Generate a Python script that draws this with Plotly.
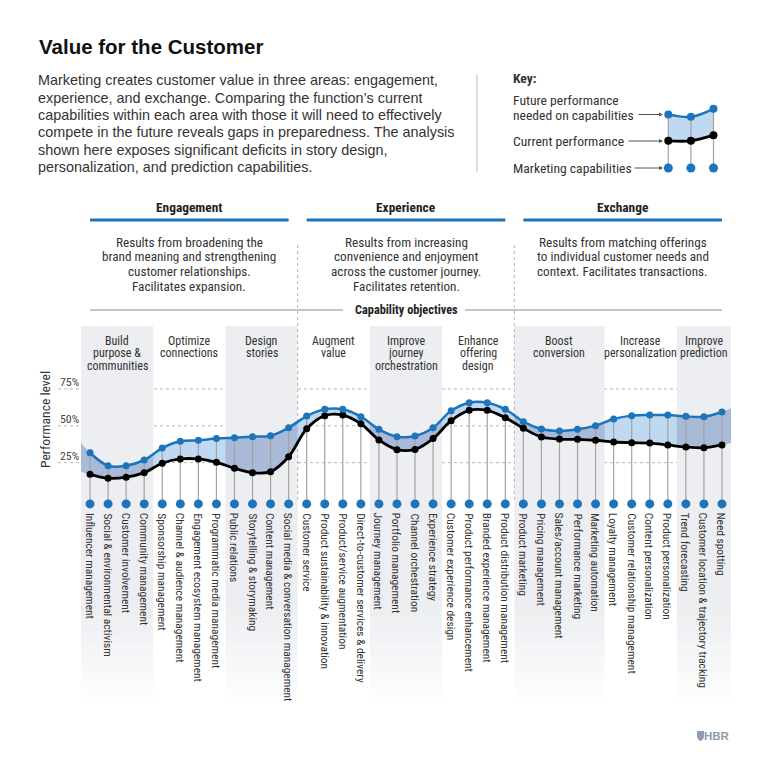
import plotly.graph_objects as go

# ---------------- data ----------------
capabilities = [
    "Influencer management", "Social & environmental activism", "Customer involvement", "Community management",
    "Sponsorship management", "Channel & audience management", "Engagement ecosystem management", "Programmatic media management",
    "Public relations", "Storytelling & storymaking", "Content management", "Social media & conversation management",
    "Customer service", "Product sustainability & innovation", "Product/service augmentation", "Direct-to-customer services & delivery",
    "Journey management", "Portfolio management", "Channel orchestration", "Experience strategy",
    "Customer experience design", "Product performance enhancement", "Branded experience management", "Product distribution management",
    "Product marketing", "Pricing management", "Sales/account management", "Performance marketing", "Marketing automation",
    "Loyalty management", "Customer relationship management", "Content personalization", "Product personalization",
    "Trend forecasting", "Customer location & trajectory tracking", "Need spotting",
]
future = [31.7, 22.9, 22.9, 26.8, 34.9, 39.5, 40.2, 41.3, 41.9, 42.6, 43.3, 48.7,
          56.6, 61.2, 61.2, 56.2, 47.6, 42.6, 43.1, 48.7, 60.2, 65.7, 65.7, 61.2,
          52.8, 47.8, 46.5, 47.6, 50.1, 54.6, 56.9, 57.3, 57.3, 56.4, 56.2, 59.4]
current = [17.1, 14.4, 15.1, 18.2, 24.6, 27.5, 27.5, 25.2, 21.2, 18.2, 18.9, 29.0,
           48.0, 56.9, 57.3, 51.4, 40.4, 33.8, 34.0, 41.3, 53.5, 60.5, 60.5, 55.5,
           48.3, 42.4, 41.0, 40.8, 40.2, 39.0, 38.5, 38.3, 37.0, 35.6, 35.1, 37.0]
# fill continues to the plot edges (left edge, right edge)
fill_edge_future = [38.3, 61.9]
fill_edge_current = [18.9, 38.5]

objectives = [
    ["Build", "purpose &", "communities"], ["Optimize", "connections"], ["Design", "stories"],
    ["Augment", "value"], ["Improve", "journey", "orchestration"], ["Enhance", "offering", "design"],
    ["Boost", "conversion"], ["Increase", "personalization"], ["Improve", "prediction"],
]
objective_sizes = [4, 4, 4, 4, 4, 4, 5, 4, 3]
objective_shaded = [True, False, True, False, True, False, True, False, True]

areas = ["Engagement", "Experience", "Exchange"]
area_sizes = [12, 12, 12]
area_desc = [
    ["Results from broadening the", "brand meaning and strengthening", "customer relationships.", "Facilitates expansion."],
    ["Results from increasing", "convenience and enjoyment", "across the customer journey.", "Facilitates retention."],
    ["Results from matching offerings", "to individual customer needs and", "context. Facilitates transactions."],
]
y_ticks = [25, 50, 75]
y_tick_labels = ["25%", "50%", "75%"]
base_level = -3  # marker row for capabilities

key_x = [0, 1, 2]
key_future = [82, 79, 89]
key_current = [49, 49, 56]
key_base = [15, 15, 15]

title = "Value for the Customer"
body = [
    "Marketing creates customer value in three areas: engagement,",
    "experience, and exchange. Comparing the function\u2019s current",
    "capabilities within each area with those it will need to effectively",
    "compete in the future reveals gaps in preparedness. The analysis",
    "shown here exposes significant deficits in story design,",
    "personalization, and prediction capabilities.",
]

# ---------------- styling / geometry ----------------
W, H = 768, 780
BLUE = "#1c74bc"
LIGHT_FILL = "#bfdaf0"
DARK_FILL = "#a9b9d8"
BAND = "#eceef1"
STEM = "#a3a3a3"
TXT = "#333333"
COND = "Roboto Condensed, Liberation Sans Narrow, DejaVu Sans Condensed, Arial Narrow, sans-serif"
SANS = "Liberation Sans, Arial, Helvetica, sans-serif"

PL, PR = 81, 731           # plot x extent (px)
N = len(capabilities)
S = (PR - PL) / N
PT, PB = 326, 705          # plot y extent (px)
Y0, K = 499.5, 1.474       # px of 0%, px per %
YMAX = (Y0 - PT) / K
YMIN = (Y0 - PB) / K


def fx(px):
    return px / W


def fy(py):
    return 1 - py / H


def xpx(i):
    return PL + (i + 0.5) * S


def ypx(v):
    return Y0 - v * K


fig = go.Figure()
shapes = []
ann = []

# gridlines (under the bands)
for v in y_ticks:
    shapes.append(dict(type="line", xref="paper", yref="paper", x0=fx(58), x1=fx(PR),
                       y0=fy(ypx(v)), y1=fy(ypx(v)), line=dict(color="#b8b8b8", width=1, dash="dot"),
                       layer="below"))

# shaded objective bands with fade at bottom
starts = []
s = 0
for n in objective_sizes:
    starts.append(s)
    s += n
FADE_TOP = 610
NF = 14
for st, n, sh in zip(starts, objective_sizes, objective_shaded):
    if not sh:
        continue
    x0, x1 = fx(xpx(st - 0.5)), fx(xpx(st + n - 0.5))
    shapes.append(dict(type="rect", xref="paper", yref="paper", x0=x0, x1=x1,
                       y0=fy(FADE_TOP), y1=fy(PT), fillcolor=BAND, line=dict(width=0), layer="below"))
    h = (PB - FADE_TOP) / NF
    for k in range(NF):
        shapes.append(dict(type="rect", xref="paper", yref="paper", x0=x0, x1=x1,
                           y0=fy(FADE_TOP + (k + 1) * h), y1=fy(FADE_TOP + k * h),
                           fillcolor=BAND, opacity=1 - (k + 0.5) / NF, line=dict(width=0), layer="below"))

# dotted area separators
a = 0
for n in area_sizes[:-1]:
    a += n
    xs = fx(xpx(a - 0.5))
    shapes.append(dict(type="line", xref="paper", yref="paper", x0=xs, x1=xs, y0=fy(245), y1=fy(ypx(0)),
                       line=dict(color="#b5b5b5", width=1, dash="dot"), layer="below"))

# ---------------- traces ----------------
fx_all = [-0.5] + list(range(N)) + [N - 0.5]
fut_all = [fill_edge_future[0]] + future + [fill_edge_future[1]]
cur_all = [fill_edge_current[0]] + current + [fill_edge_current[1]]


def add_fill(xaxis, color):
    fig.add_trace(go.Scatter(x=fx_all, y=cur_all, mode="lines", line=dict(width=0, shape="spline", color=color),
                             xaxis=xaxis, yaxis="y", hoverinfo="skip", showlegend=False))
    fig.add_trace(go.Scatter(x=fx_all, y=fut_all, mode="lines", fill="tonexty", fillcolor=color,
                             line=dict(width=0, shape="spline", color=color),
                             xaxis=xaxis, yaxis="y", hoverinfo="skip", showlegend=False))


add_fill("x", LIGHT_FILL)
band_axes = []
ax_n = 2
for st, n, sh in zip(starts, objective_sizes, objective_shaded):
    if not sh:
        continue
    band_axes.append((f"x{ax_n}", st, n))
    add_fill(f"x{ax_n}", DARK_FILL)
    ax_n += 1
TOP = f"x{ax_n}"
KEYX = f"x{ax_n + 1}"

# stems
sx, sy = [], []
for i in range(N):
    sx += [i, i, None]
    sy += [base_level, future[i], None]
fig.add_trace(go.Scatter(x=sx, y=sy, mode="lines", line=dict(color=STEM, width=1.2),
                         xaxis=TOP, yaxis="y", hoverinfo="skip", showlegend=False))
fig.add_trace(go.Scatter(x=list(range(N)), y=current, mode="lines+markers",
                         line=dict(color="#000000", width=2.8, shape="spline"),
                         marker=dict(color="#000000", size=7), xaxis=TOP, yaxis="y",
                         name="Current performance", showlegend=False, cliponaxis=False))
fig.add_trace(go.Scatter(x=list(range(N)), y=future, mode="lines+markers",
                         line=dict(color=BLUE, width=2.5, shape="spline"),
                         marker=dict(color=BLUE, size=7), xaxis=TOP, yaxis="y",
                         name="Future performance", showlegend=False, cliponaxis=False))
fig.add_trace(go.Scatter(x=list(range(N)), y=[base_level] * N, mode="markers",
                         marker=dict(color=BLUE, size=9), xaxis=TOP, yaxis="y",
                         name="Marketing capabilities", showlegend=False, cliponaxis=False))

# key graphic
fig.add_trace(go.Scatter(x=key_x, y=key_current, mode="lines", line=dict(width=0, shape="spline"),
                         xaxis=KEYX, yaxis="y2", hoverinfo="skip", showlegend=False))
fig.add_trace(go.Scatter(x=key_x, y=key_future, mode="lines", fill="tonexty", fillcolor=LIGHT_FILL,
                         line=dict(width=0, shape="spline"), xaxis=KEYX, yaxis="y2",
                         hoverinfo="skip", showlegend=False))
kx, ky = [], []
for i, xv in enumerate(key_x):
    kx += [xv, xv, None]
    ky += [key_base[i], key_future[i], None]
fig.add_trace(go.Scatter(x=kx, y=ky, mode="lines", line=dict(color=STEM, width=1.2),
                         xaxis=KEYX, yaxis="y2", hoverinfo="skip", showlegend=False))
fig.add_trace(go.Scatter(x=key_x, y=key_current, mode="lines+markers",
                         line=dict(color="#000000", width=2.8, shape="spline"),
                         marker=dict(color="#000000", size=8), xaxis=KEYX, yaxis="y2",
                         showlegend=False, cliponaxis=False))
fig.add_trace(go.Scatter(x=key_x, y=key_future, mode="lines+markers",
                         line=dict(color=BLUE, width=2.5, shape="spline"),
                         marker=dict(color=BLUE, size=8), xaxis=KEYX, yaxis="y2",
                         showlegend=False, cliponaxis=False))
fig.add_trace(go.Scatter(x=key_x, y=key_base, mode="markers",
                         marker=dict(color=BLUE, size=9), xaxis=KEYX, yaxis="y2",
                         showlegend=False, cliponaxis=False))

# ---------------- axes ----------------
hidden = dict(visible=False, showgrid=False, zeroline=False, fixedrange=True)
layout_axes = {
    "xaxis": dict(domain=[fx(PL), fx(PR)], range=[-0.5, N - 0.5], anchor="y", **hidden),
    "yaxis": dict(domain=[fy(PB), fy(PT)], range=[YMIN, YMAX], anchor="x", **hidden),
}
for name, st, n in band_axes:
    key = "xaxis" + name[1:]
    layout_axes[key] = dict(domain=[fx(xpx(st - 0.5)), fx(xpx(st + n - 0.5))],
                            range=[st - 0.5, st + n - 0.5], anchor="y", **hidden)
layout_axes["xaxis" + TOP[1:]] = dict(domain=[fx(PL), fx(PR)], range=[-0.5, N - 0.5], anchor="y", **hidden)
KS = 22.6
layout_axes["xaxis" + KEYX[1:]] = dict(domain=[fx(650), fx(732)],
                                       range=[(650 - 668.3) / KS, (732 - 668.3) / KS], anchor="y2", **hidden)
layout_axes["yaxis2"] = dict(domain=[fy(180), fy(100)], range=[0, 100], anchor=KEYX, **hidden)


# ---------------- text ----------------
def text(x, y, t, size=12, color=TXT, family=COND, xanchor="center", yanchor="middle", **kw):
    ann.append(dict(x=x, y=y, xref=kw.pop("xref", "paper"), yref=kw.pop("yref", "paper"), text=t,
                    showarrow=False, xanchor=xanchor, yanchor=yanchor,
                    font=dict(size=size, color=color, family=family), **kw))


text(fx(37), fy(46), f"<b>{title}</b>", size=20.5, color="#111111", family=SANS, xanchor="left")
for k, line in enumerate(body):
    text(fx(36), fy(80 + k * 17.3), line, size=14.4, color=TXT, family=SANS, xanchor="left", height=17)
shapes.append(dict(type="line", xref="paper", yref="paper", x0=fx(477), x1=fx(477), y0=fy(75), y1=fy(172),
                   line=dict(color="#bbbbbb", width=1)))

# key text
text(fx(511), fy(78), "<b>Key:</b>", size=13.6, xanchor="left")
text(fx(511), fy(100), "Future performance", size=13.6, xanchor="left", height=14)
text(fx(511), fy(114.5), "needed on capabilities", size=13.6, xanchor="left", height=14)
text(fx(511), fy(140.5), "Current performance", size=13.6, xanchor="left")
text(fx(511), fy(168), "Marketing capabilities", size=13.6, xanchor="left")
for yv, x_from in [(114.5, 637), (141, 627), (168, 633)]:
    ann.append(dict(x=fx(663), y=fy(yv), xref="paper", yref="paper", text="", showarrow=True,
                    ax=x_from - 663, ay=0, arrowhead=2, arrowsize=0.8, arrowwidth=1, arrowcolor="#555555"))

# area headers
a = 0
for name, n, desc in zip(areas, area_sizes, area_desc):
    c = xpx(a + (n - 1) / 2)
    text(fx(c), fy(208), f"<b>{name}</b>", size=13.4, color="#222222")
    shapes.append(dict(type="line", xref="paper", yref="paper", x0=fx(xpx(a)), x1=fx(xpx(a + n - 1)),
                       y0=fy(220), y1=fy(220), line=dict(color=BLUE, width=3)))
    for k, line in enumerate(desc):
        text(fx(c), fy(242 + k * 14.7), line, size=13.2, height=14.5)
    a += n

# capability objectives line
text(fx(xpx((N - 1) / 2)), fy(310), "<b>Capability objectives</b>", size=12.3, color="#222222")
for x0, x1 in [(xpx(0), 343), (465, xpx(N - 1))]:
    shapes.append(dict(type="line", xref="paper", yref="paper", x0=fx(x0), x1=fx(x1), y0=fy(310), y1=fy(310),
                       line=dict(color="#8c8c8c", width=1.2)))

# objective labels
for st, n, lines in zip(starts, objective_sizes, objectives):
    c = xpx(st + (n - 1) / 2)
    for k, line in enumerate(lines):
        text(fx(c), fy(341 + k * 12.7), line, size=12, height=12.6)

# y tick labels and axis title
for v, lab in zip(y_ticks, y_tick_labels):
    text(fx(58), fy(ypx(v) - 6.5), lab, size=11.8, color="#444444", xanchor="left")
text(fx(45), fy(420), "Performance level", size=13.6, textangle=-90)

# capability labels
for i, lab in enumerate(capabilities):
    ann.append(dict(x=i, y=fy(511), xref="x", yref="paper", text=lab, showarrow=False, textangle=90,
                    xanchor="center", yanchor="top", font=dict(size=11.4, color=TXT, family=COND)))

# HBR logo
text(fx(732), fy(736), "<b>HBR</b>", size=11.5, color="#8d9cae", family=SANS, xanchor="right")
shapes.append(dict(type="path", xref="paper", yref="paper",
                   path=f"M {fx(697)},{fy(731)} L {fx(704)},{fy(731)} L {fx(704)},{fy(736)} "
                        f"Q {fx(704)},{fy(739.5)} {fx(700.5)},{fy(741)} Q {fx(697)},{fy(739.5)} {fx(697)},{fy(736)} Z",
                   fillcolor="#8d9cae", line=dict(width=0)))

fig.update_layout(
    width=W, height=H, margin=dict(l=0, r=0, t=0, b=0),
    paper_bgcolor="white", plot_bgcolor="rgba(0,0,0,0)",
    showlegend=False, shapes=shapes, annotations=ann, hovermode=False,
    **layout_axes,
)

fig.write_html("out.html", config={"displayModeBar": False},
               post_script="document.body.style.margin='0px';document.body.style.overflow='hidden';")
